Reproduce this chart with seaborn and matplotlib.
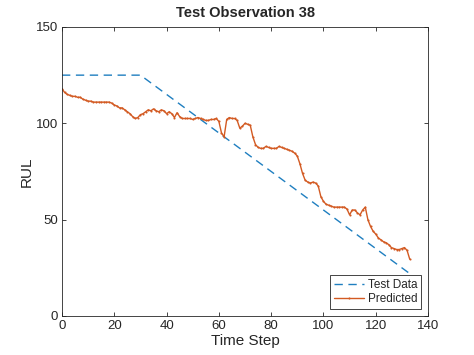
import numpy as np
import pandas as pd
import matplotlib
matplotlib.use("Agg")
import matplotlib.pyplot as plt
import seaborn as sns

# true RUL (piecewise: capped at 125, then linear decline)
test_step = [0, 30, 133]
test_rul = [125, 125, 22]

# predicted RUL, one value per time step 0..133
pred_rul = [
    118, 116, 115, 114.5, 114, 114, 113.5, 113.5, 112.5, 112,
    111.5, 111.5, 111, 111, 111, 111, 111, 111, 111, 110.5,
    109.5, 109, 108, 108, 107, 106, 105, 103.5, 102.5, 103,
    104.5, 105, 106, 107, 106.5, 107.5, 106.5, 106, 107, 106.5,
    105, 106, 105, 103, 105.5, 103.5, 102.5, 102.5, 102.5, 102.5,
    102, 102.5, 103, 102.5, 102, 101.5, 101.5, 102, 102, 102.5,
    101, 95, 93, 102, 103, 102.5, 102.5, 101.5, 97.5, 98.5,
    100, 99.5, 99, 93, 89, 87.5, 87, 87, 88, 87.5,
    87, 87, 87, 88, 87.5, 87, 86.5, 86, 85.5, 84.5,
    83, 79, 74, 70.5, 69.5, 69, 69.5, 69, 67.5, 62,
    59.5, 58, 57.5, 57, 56.5, 56.5, 56.5, 56.5, 56.5, 55.5,
    52.5, 55, 55, 53.5, 52.5, 55, 56.5, 50, 46.5, 44,
    42.5, 40.5, 39.5, 38.5, 38, 37, 35.5, 35, 34.5, 34.5,
    35, 35.5, 34, 29.5,
]
pred_step = list(range(len(pred_rul)))

sns.set_theme(style="ticks")
plt.rcParams["font.family"] = ["Liberation Sans", "DejaVu Sans"]
plt.rcParams["axes.edgecolor"] = "#262626"
plt.rcParams["xtick.color"] = "#262626"
plt.rcParams["ytick.color"] = "#262626"

fig = plt.figure(figsize=(4.74, 3.55), dpi=100)
ax = fig.add_axes([0.1308, 0.1099, 0.7722, 0.8141])

test_df = pd.DataFrame({"step": test_step, "rul": test_rul})
pred_df = pd.DataFrame({"step": pred_step, "rul": pred_rul})

sns.lineplot(data=test_df, x="step", y="rul", ax=ax, color="#1f7fc0",
             linewidth=1.0, dashes=False, label="Test Data")
ax.lines[-1].set_dashes((6, 4))
sns.lineplot(data=pred_df, x="step", y="rul", ax=ax, color="#d35a22",
             linewidth=1.0, marker=".", markersize=3, markeredgewidth=0,
             label="Predicted")

ax.set_xlim(0, 140)
ax.set_ylim(0, 150)
ax.set_xticks(np.arange(0, 141, 20))
ax.set_yticks([0, 50, 100, 150])
ax.tick_params(direction="in", length=3, width=0.6, labelsize=9.5,
               top=True, right=True, pad=3)
for s in ax.spines.values():
    s.set_linewidth(0.6)

ax.set_title("Test Observation 38", fontsize=10.5, fontweight="bold", pad=7)
ax.set_xlabel("Time Step", fontsize=11, labelpad=1)
ax.set_ylabel("RUL", fontsize=11, labelpad=1)

leg = ax.legend(loc="lower right", fontsize=8.5, frameon=True, fancybox=False,
                edgecolor="#262626", framealpha=1, borderpad=0.3,
                handlelength=2.6, handletextpad=0.3, borderaxespad=0.6,
                labelspacing=0.2)
leg.get_frame().set_linewidth(0.6)

fig.savefig("out.png", dpi=100)
